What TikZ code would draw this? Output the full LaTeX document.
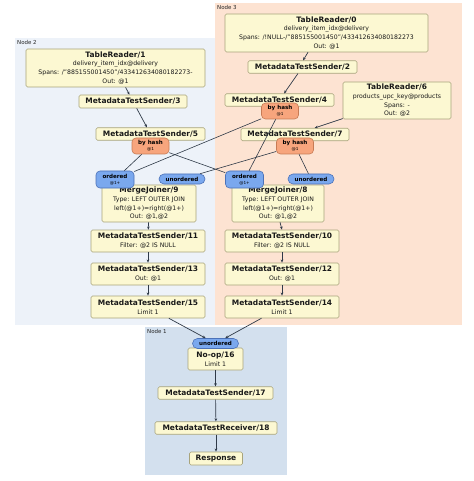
\documentclass[tikz,border=0pt]{standalone}
\usepackage{fontspec}
\setmainfont{DejaVu Sans}
\usetikzlibrary{arrows.meta}
\definecolor{nodefill}{HTML}{FCF8D2}
\definecolor{nodeborder}{HTML}{A8A47C}
\definecolor{hashfill}{HTML}{F7A57D}
\definecolor{hashborder}{HTML}{C77B55}
\definecolor{ordfill}{HTML}{7AA8EE}
\definecolor{ordborder}{HTML}{4C72B8}
\definecolor{bgtwo}{HTML}{EDF2F9}
\definecolor{bgthree}{HTML}{FDE3D2}
\definecolor{bgone}{HTML}{D3E0EE}
\definecolor{edgecol}{HTML}{2F3A48}
\newcommand{\ttl}[1]{{\fontsize{7.5}{8.7}\selectfont\bfseries #1}}
\newcommand{\badge}[2]{{\fontsize{5.6}{6}\selectfont\bfseries #1}\\{\fontsize{4.2}{6}\selectfont #2}}
\begin{document}
\begin{tikzpicture}[x=1bp,y=-1bp,
  op/.style={draw=nodeborder, fill=nodefill, rounded corners=1.5bp, line width=0.6bp,
    inner sep=0pt, align=center, font=\fontsize{6.2}{8.7}\selectfont, text=black!90},
  hashb/.style={draw=hashborder, fill=hashfill, rounded corners=4bp, line width=0.6bp,
    inner sep=0pt, align=center, minimum width=37bp, minimum height=16bp,
    font=\fontsize{5.6}{6}\selectfont},
  ordb/.style={draw=ordborder, fill=ordfill, rounded corners=4bp, line width=0.6bp,
    inner sep=0pt, align=center, minimum width=38bp, minimum height=17bp,
    font=\fontsize{5.6}{6}\selectfont},
  unordb/.style={draw=ordborder, fill=ordfill, rounded corners=5bp, line width=0.6bp,
    inner sep=0pt, minimum width=46bp, minimum height=10bp,
    font=\fontsize{5.6}{6}\selectfont\bfseries},
  flow/.style={draw=edgecol, line width=0.7bp, -{Stealth[length=3.2bp,width=2.6bp]}},
  link/.style={draw=edgecol, line width=0.6bp},
  clab/.style={anchor=north west, inner sep=0pt, font=\fontsize{5.5}{6}\selectfont, text=black!85}
]
\useasboundingbox (0,0) rectangle (474,481);
% clusters
\fill[bgtwo] (15,38) rectangle (216,325);
\fill[bgthree] (215,3) rectangle (462,325);
\fill[bgone] (145,327) rectangle (287,475);
\node[clab] (l2) at (17,40) {Node 2};
\node[clab] (l3) at (217,5) {Node 3};
\node[clab] (l1) at (147,329) {Node 1};

% Node 2 operators
\node[op, minimum width=179bp, minimum height=38bp] (tr1) at (115.5,68)
  {\ttl{TableReader/1}\\delivery\_item\_idx@delivery\\Spans: /"885155001450"/433412634080182273-\\Out: @1};
\node[op, minimum width=108bp, minimum height=13bp] (m3) at (133,101.5) {\ttl{MetadataTestSender/3}};
\node[op, minimum width=109bp, minimum height=12.5bp] (m5) at (150.5,134) {\ttl{MetadataTestSender/5}};
\node[op, minimum width=94bp, minimum height=37bp] (mj9) at (149,203.5)
  {\ttl{MergeJoiner/9}\\Type: LEFT OUTER JOIN\\left(@1+)=right(@1+)\\Out: @1,@2};
\node[op, minimum width=114bp, minimum height=22bp] (m11) at (148,241) {\ttl{MetadataTestSender/11}\\Filter: @2 IS NULL};
\node[op, minimum width=114bp, minimum height=22bp] (m13) at (148,274) {\ttl{MetadataTestSender/13}\\Out: @1};
\node[op, minimum width=114bp, minimum height=22bp] (m15) at (148,307) {\ttl{MetadataTestSender/15}\\Limit 1};

% Node 3 operators
\node[op, minimum width=203bp, minimum height=38bp] (tr0) at (326.5,33)
  {\ttl{TableReader/0}\\delivery\_item\_idx@delivery\\Spans: /!NULL-/"885155001450"/433412634080182273\\Out: @1};
\node[op, minimum width=109bp, minimum height=12.5bp] (m2) at (302.5,67) {\ttl{MetadataTestSender/2}};
\node[op, minimum width=109bp, minimum height=12.5bp] (m4) at (279.5,100) {\ttl{MetadataTestSender/4}};
\node[op, minimum width=108bp, minimum height=37bp] (tr6) at (397,100.5)
  {\ttl{TableReader/6}\\products\_upc\_key@products\\Spans: -\\Out: @2};
\node[op, minimum width=108bp, minimum height=12.5bp] (m7) at (295,134.5) {\ttl{MetadataTestSender/7}};
\node[op, minimum width=92bp, minimum height=37bp] (mj8) at (278,203.5)
  {\ttl{MergeJoiner/8}\\Type: LEFT OUTER JOIN\\left(@1+)=right(@1+)\\Out: @1,@2};
\node[op, minimum width=114bp, minimum height=22bp] (m10) at (282,241) {\ttl{MetadataTestSender/10}\\Filter: @2 IS NULL};
\node[op, minimum width=114bp, minimum height=22bp] (m12) at (282,274) {\ttl{MetadataTestSender/12}\\Out: @1};
\node[op, minimum width=114bp, minimum height=22bp] (m14) at (282,307) {\ttl{MetadataTestSender/14}\\Limit 1};

% Node 1 operators
\node[op, minimum width=55bp, minimum height=22bp] (noop) at (215.5,359) {\ttl{No-op/16}\\Limit 1};
\node[op, minimum width=115bp, minimum height=12.5bp] (m17) at (215.5,393) {\ttl{MetadataTestSender/17}};
\node[op, minimum width=122bp, minimum height=12.5bp] (r18) at (216,428) {\ttl{MetadataTestReceiver/18}};
\node[op, minimum width=53bp, minimum height=13bp] (resp) at (216,458.5) {\ttl{Response}};

% badges
\node[hashb] (h5) at (150.5,146) {\badge{by hash}{@1}};
\node[hashb] (h4) at (280,111) {\badge{by hash}{@1}};
\node[hashb] (h7) at (295,146) {\badge{by hash}{@1}};
\node[ordb] (o9) at (115,179.5) {\badge{ordered}{@1+}};
\node[unordb] (u9) at (182,179) {unordered};
\node[ordb] (o8) at (244.5,179.5) {\badge{ordered}{@1+}};
\node[unordb] (u8) at (311,179) {unordered};
\node[unordb] (u16) at (215.5,343.5) {unordered};

% flows
\draw[flow] (tr1) -- (m3);
\draw[flow] (m3) -- (m5);
\draw[flow] (tr0.south -| 308,0) -- (m2.north -| 303,0);
\draw[flow] (m2) -- (m4);
\draw[flow] (tr6) -- (m7);
\draw[flow] (mj9) -- (m11);
\draw[flow] (m11) -- (m13);
\draw[flow] (m13) -- (m15);
\draw[flow] (mj8.south -| 280,0) -- (m10.north -| 282,0);
\draw[flow] (m10) -- (m12);
\draw[flow] (m12) -- (m14);
\draw[flow] (m15) -- (u16);
\draw[flow] (m14) -- (u16);
\draw[flow] (noop) -- (m17);
\draw[flow] (m17) -- (r18);
\draw[flow] (r18) -- (resp);

% hash links
\draw[link] (h5) -- (o9);
\draw[link] (h5) -- (o8);
\draw[link] (h4) -- (o9);
\draw[link] (h4) -- (o8);
\draw[link] (h7) -- (u9);
\draw[link] (h7) -- (u8);
\end{tikzpicture}
\end{document}
